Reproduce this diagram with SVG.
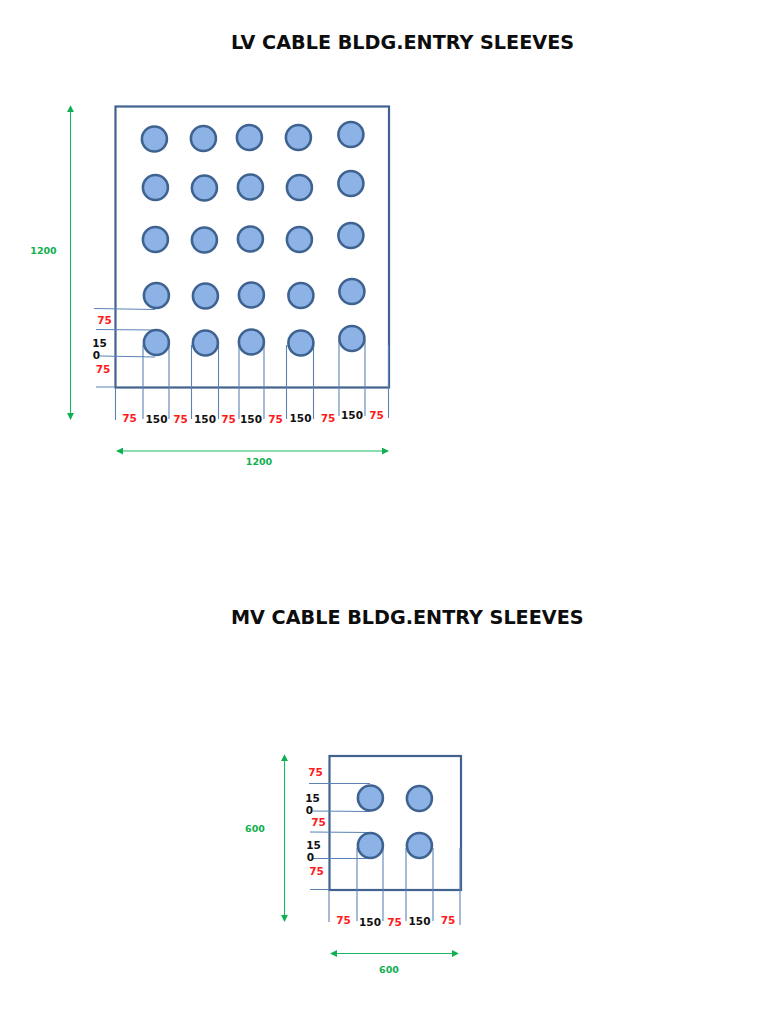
<svg xmlns="http://www.w3.org/2000/svg" width="768" height="1024" viewBox="0 0 768 1024">
<style>
text{font-family:"DejaVu Sans",sans-serif;font-weight:700;text-anchor:middle}
.t{font-size:19.2px;fill:#0d0d0d;text-anchor:start}
.r{font-size:10.5px;fill:#ff1a1a}
.b{font-size:10.5px;fill:#111}
.g{font-size:9.5px;fill:#0fb050}
.box{fill:#fff;stroke:#41628f;stroke-width:2.2}
.c{fill:#8db3e6;stroke:#3f6391;stroke-width:2.6}
.e{fill:none;stroke:#5c83b5;stroke-width:1.1}
.d{fill:none;stroke:#1cb864;stroke-width:1.1;marker-start:url(#a);marker-end:url(#a)}
</style>
<defs>
<marker id="a" viewBox="0 0 8 8" refX="7" refY="4" markerWidth="7" markerHeight="7" markerUnits="userSpaceOnUse" orient="auto-start-reverse"><path d="M0 0L8 4L0 8Z" fill="#0fb050"/></marker>
</defs>
<text class="t" x="231" y="48.500">LV CABLE BLDG.ENTRY SLEEVES</text>
<text class="t" x="231" y="623.500">MV CABLE BLDG.ENTRY SLEEVES</text>
<g id="lv-box"><rect class="box" x="115.500" y="106.500" width="273.500" height="281"/></g>
<g id="mv-box"><rect class="box" x="329.500" y="756" width="131.500" height="134"/></g>
<g id="connectors">
<path class="e" d="M94 308.500L155 309.500M96 329.500L155 330M100 356L155 357M96 387H115M115.500 388V420M143 345V419M169 345V419M191.500 345V419M218.500 345V419M239 345V419M264 345V419M286.500 345V419M313.500 345V419M339 340V416M365 340V416M388.500 345V418"/>
<path class="d" d="M70.500 106V419"/>
<path class="d" d="M117 451H388"/>
<path class="e" d="M309 783.500H370M313 811L370 811.500M310 832L370 832.500M312 858.500H370M310 889.500H329M329 890V922M357 848V921M383 848V921M406 848V921M433 848V921M460 848V925"/>
<path class="d" d="M284.500 755V921"/>
<path class="d" d="M331 953.500H458"/>
</g>
<g id="lv-sleeves">
<circle class="c" cx="154.400" cy="139" r="12.500"/><circle class="c" cx="203.400" cy="138.500" r="12.500"/><circle class="c" cx="249.400" cy="137.500" r="12.500"/><circle class="c" cx="298.400" cy="137.500" r="12.500"/><circle class="c" cx="350.900" cy="134.500" r="12.500"/>
<circle class="c" cx="155.400" cy="187.500" r="12.500"/><circle class="c" cx="204.400" cy="188" r="12.500"/><circle class="c" cx="250.400" cy="187" r="12.500"/><circle class="c" cx="299.400" cy="187.500" r="12.500"/><circle class="c" cx="350.900" cy="183.500" r="12.500"/>
<circle class="c" cx="155.400" cy="239.500" r="12.500"/><circle class="c" cx="204.400" cy="240" r="12.500"/><circle class="c" cx="250.400" cy="239" r="12.500"/><circle class="c" cx="299.400" cy="239.500" r="12.500"/><circle class="c" cx="350.900" cy="235.500" r="12.500"/>
<circle class="c" cx="156.400" cy="295.500" r="12.500"/><circle class="c" cx="205.400" cy="296" r="12.500"/><circle class="c" cx="251.400" cy="295" r="12.500"/><circle class="c" cx="300.900" cy="295.500" r="12.500"/><circle class="c" cx="351.900" cy="291.500" r="12.500"/>
<circle class="c" cx="156.400" cy="342.500" r="12.500"/><circle class="c" cx="205.400" cy="343" r="12.500"/><circle class="c" cx="251.400" cy="342" r="12.500"/><circle class="c" cx="300.900" cy="343" r="12.500"/><circle class="c" cx="351.900" cy="338.500" r="12.500"/>
</g>
<g id="lv-labels">
<text class="g" x="43.500" y="254">1200</text><text class="g" x="259" y="465">1200</text>
<text class="r" x="104.500" y="324">75</text><text class="b" x="99.500" y="347">15</text><text class="b" x="96.500" y="358.500">0</text><text class="r" x="103" y="372.500">75</text>
<text class="r" x="129.500" y="422">75</text><text class="b" x="156.500" y="423">150</text><text class="r" x="180.500" y="423">75</text><text class="b" x="205" y="423">150</text><text class="r" x="228.500" y="423">75</text><text class="b" x="251" y="423">150</text><text class="r" x="275.500" y="423">75</text><text class="b" x="300.500" y="422">150</text><text class="r" x="328" y="422">75</text><text class="b" x="352" y="419">150</text><text class="r" x="376.500" y="419">75</text>
</g>
<g id="mv-sleeves">
<circle class="c" cx="370.400" cy="798" r="12.500"/><circle class="c" cx="419.400" cy="798.500" r="12.500"/><circle class="c" cx="370.400" cy="845.500" r="12.500"/><circle class="c" cx="419.400" cy="845.500" r="12.500"/>
</g>
<g id="mv-labels">
<text class="g" x="255" y="832">600</text><text class="g" x="389" y="973">600</text>
<text class="r" x="315.500" y="776">75</text><text class="b" x="312.500" y="802">15</text><text class="b" x="309.500" y="814">0</text><text class="r" x="318.500" y="826">75</text><text class="b" x="313.500" y="849">15</text><text class="b" x="310.500" y="861">0</text><text class="r" x="316.500" y="875">75</text>
<text class="r" x="343.500" y="924">75</text><text class="b" x="370" y="926">150</text><text class="r" x="394.500" y="926">75</text><text class="b" x="419.500" y="925">150</text><text class="r" x="448" y="924">75</text>
</g>
</svg>
